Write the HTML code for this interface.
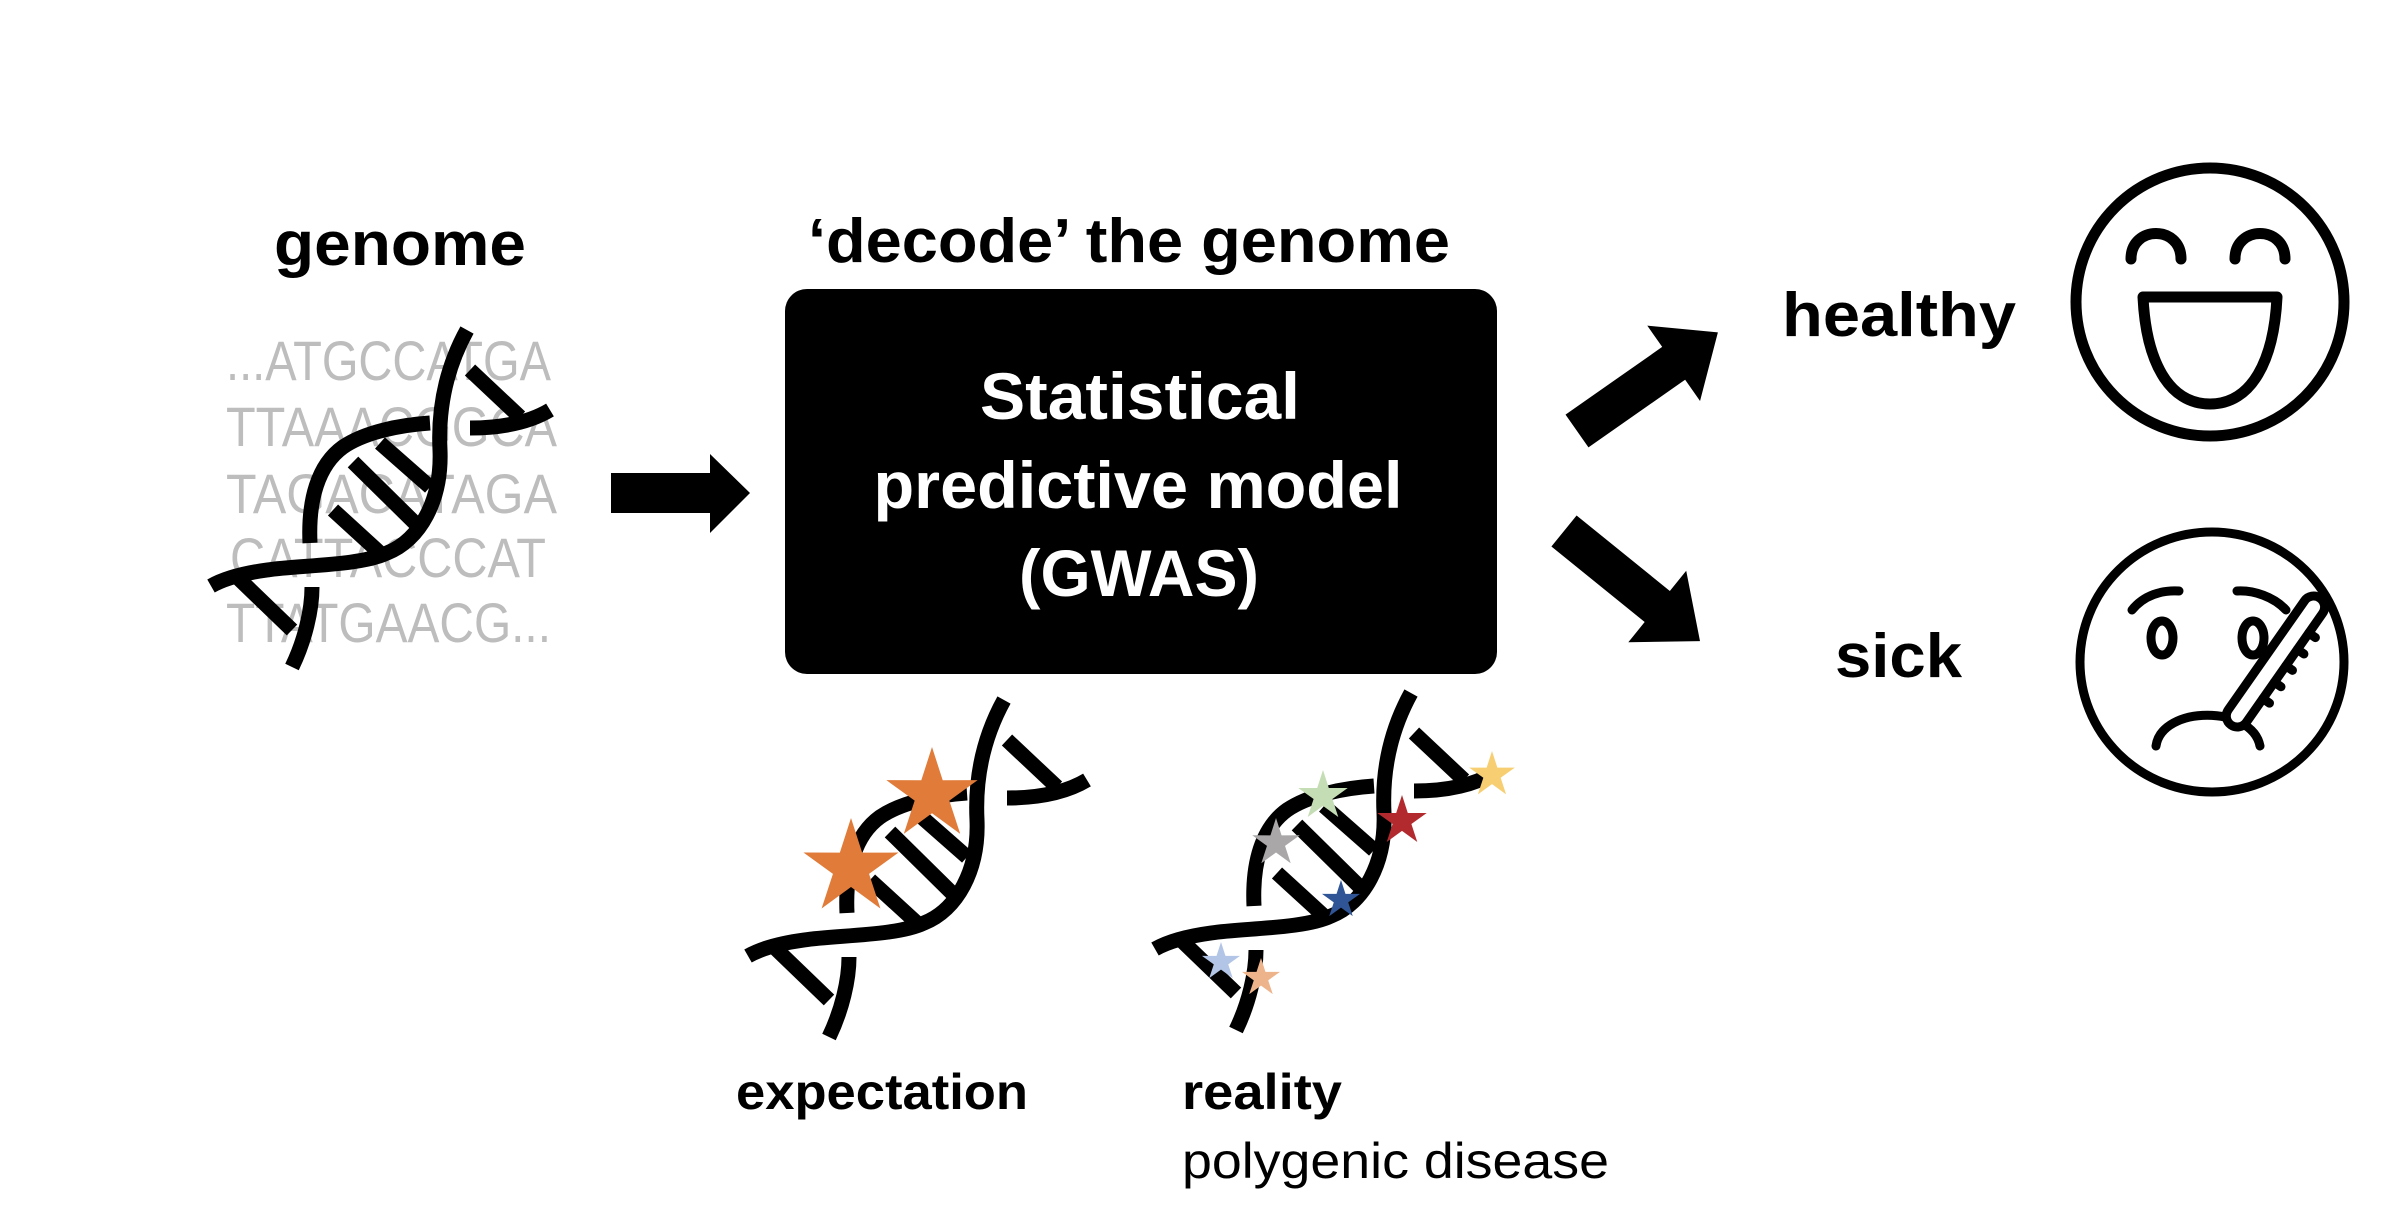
<!DOCTYPE html>
<html><head><meta charset="utf-8"><style>
html,body{margin:0;padding:0;background:#fff}
svg{display:block}
</style></head><body>
<svg width="2400" height="1216" viewBox="0 0 2400 1216" xmlns="http://www.w3.org/2000/svg">
<defs>
<g id="dna" fill="none" stroke="#000" stroke-width="15">
<path d="M467,330 C445,370 438,410 440,450 C442,500 420,540 387,553 C360,566 300,565 267,570 C245,573 225,578 211,586"/>
<path d="M292,667 C305,640 312,610 312,587"/>
<path d="M310,543 C308,500 318,465 343,447 C365,432 400,425 430,423"/>
<path d="M470,428 C495,428 525,425 550,410"/>
<line x1="470" y1="370" x2="520" y2="417"/>
<line x1="380" y1="443" x2="430" y2="487"/>
<line x1="353" y1="462" x2="420" y2="528"/>
<line x1="333" y1="510" x2="380" y2="553"/>
<line x1="237" y1="577" x2="292" y2="630"/>
</g>
<path id="star" d="M0,-1 L0.223,-0.307 L0.951,-0.309 L0.361,0.117 L0.588,0.809 L0,0.38 L-0.588,0.809 L-0.361,0.117 L-0.951,-0.309 L-0.223,-0.307 Z"/>
</defs>

<!-- genome -->
<text x="400" y="265" text-anchor="middle" font-family="Liberation Sans, sans-serif" font-weight="bold" font-size="62" textLength="252" lengthAdjust="spacingAndGlyphs">genome</text>
<g font-family="Liberation Sans, sans-serif" font-size="56" fill="#bdbdbd">
<text x="226" y="380" textLength="325" lengthAdjust="spacingAndGlyphs">...ATGCCATGA</text>
<text x="226" y="446" textLength="331" lengthAdjust="spacingAndGlyphs">TTAAACGGCA</text>
<text x="226" y="513" textLength="331" lengthAdjust="spacingAndGlyphs">TAGACATAGA</text>
<text x="230" y="577" textLength="316" lengthAdjust="spacingAndGlyphs">CATTACCCAT</text>
<text x="226" y="642" textLength="325" lengthAdjust="spacingAndGlyphs">TTATGAACG...</text>
</g>
<use href="#dna"/>

<!-- right arrow -->
<path d="M611,473 L710,473 L710,454 L750,493 L710,533 L710,513 L611,513 Z" fill="#000"/>

<!-- decode title and box -->
<text x="1129" y="262" text-anchor="middle" font-family="Liberation Sans, sans-serif" font-weight="bold" font-size="62" textLength="642" lengthAdjust="spacingAndGlyphs">‘decode’ the genome</text>
<rect x="785" y="289" width="712" height="385" rx="22" fill="#000"/>
<g font-family="Liberation Sans, sans-serif" font-weight="bold" font-size="66" fill="#fff" text-anchor="middle">
<text x="1140" y="419" textLength="320" lengthAdjust="spacingAndGlyphs">Statistical</text>
<text x="1138" y="508" textLength="529" lengthAdjust="spacingAndGlyphs">predictive model</text>
<text x="1139" y="596" textLength="240" lengthAdjust="spacingAndGlyphs">(GWAS)</text>
</g>

<!-- diagonal arrows -->
<g fill="#000">
<path d="M0,-20 L118,-20 L118,-46 L172,0 L118,46 L118,20 L0,20 Z" transform="translate(1577,431) rotate(-35)"/>
<path d="M0,-20 L120,-20 L120,-46 L175,0 L120,46 L120,20 L0,20 Z" transform="translate(1564,531) rotate(39)"/>
</g>

<!-- healthy / sick -->
<text x="1782" y="336" font-family="Liberation Sans, sans-serif" font-weight="bold" font-size="62" textLength="234" lengthAdjust="spacingAndGlyphs">healthy</text>
<text x="1835" y="677" font-family="Liberation Sans, sans-serif" font-weight="bold" font-size="62" textLength="127" lengthAdjust="spacingAndGlyphs">sick</text>

<!-- happy face -->
<g fill="none" stroke="#000" stroke-width="11" stroke-linecap="round">
<ellipse cx="2210" cy="302" rx="134" ry="134"/>
<path d="M2131,259 C2131,225 2181,225 2181,259"/>
<path d="M2235,259 C2235,225 2285,225 2285,259"/>
<path d="M2143,297 L2277,297 C2274,360 2252,404 2210,404 C2168,404 2146,360 2143,297 Z" stroke-linejoin="round"/>
</g>

<!-- sick face -->
<g fill="none" stroke="#000" stroke-width="9" stroke-linecap="round">
<ellipse cx="2212" cy="662" rx="132" ry="130"/>
<path d="M2132,610 C2144,595 2162,590 2179,591"/>
<path d="M2237,591 C2254,590 2274,597 2286,610"/>
<ellipse cx="2162" cy="638" rx="11" ry="17"/>
<ellipse cx="2253" cy="638" rx="11" ry="17"/>
<path d="M2156,746 C2162,705 2252,705 2260,746"/>
<g transform="translate(2231,725) rotate(-55)">
<rect x="0" y="-11" width="155" height="22" rx="11" fill="#fff"/>
<line x1="40" y1="11" x2="40" y2="19"/><line x1="60" y1="11" x2="60" y2="19"/>
<line x1="80" y1="11" x2="80" y2="19"/><line x1="100" y1="11" x2="100" y2="19"/>
<line x1="120" y1="11" x2="120" y2="19"/>
</g>
</g>

<!-- expectation dna -->
<use href="#dna" transform="translate(537,370)"/>
<g fill="#E07B39">
<use href="#star" transform="translate(851,868) scale(50)"/>
<use href="#star" transform="translate(932,795) scale(48)"/>
</g>

<!-- reality dna -->
<use href="#dna" transform="translate(944,363)"/>
<use href="#star" fill="#C5DDB5" transform="translate(1323,796) scale(26)"/>
<use href="#star" fill="#A9A7A7" transform="translate(1276,843) scale(25)"/>
<use href="#star" fill="#B22A2E" transform="translate(1402,821) scale(26)"/>
<use href="#star" fill="#F7CF72" transform="translate(1492,775) scale(24)"/>
<use href="#star" fill="#2F5596" transform="translate(1341,900) scale(20)"/>
<use href="#star" fill="#B2C5E6" transform="translate(1221,962) scale(20)"/>
<use href="#star" fill="#EDB48B" transform="translate(1261,978) scale(20)"/>

<!-- labels -->
<text x="736" y="1109" font-family="Liberation Sans, sans-serif" font-weight="bold" font-size="50" textLength="292" lengthAdjust="spacingAndGlyphs">expectation</text>
<text x="1182" y="1109" font-family="Liberation Sans, sans-serif" font-weight="bold" font-size="50" textLength="160" lengthAdjust="spacingAndGlyphs">reality</text>
<text x="1182" y="1178" font-family="Liberation Sans, sans-serif" font-size="50" textLength="427" lengthAdjust="spacingAndGlyphs">polygenic disease</text>
</svg>
</body></html>
